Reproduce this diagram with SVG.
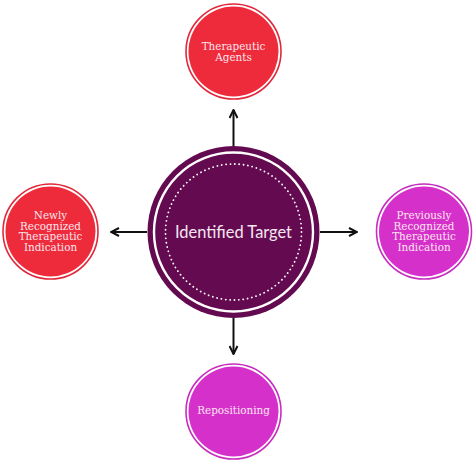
<svg xmlns="http://www.w3.org/2000/svg" width="474" height="466" viewBox="0 0 474 466">
<defs>
<marker id="ah" viewBox="0 0 10 10" refX="9" refY="5" markerWidth="10" markerHeight="10" markerUnits="userSpaceOnUse" orient="auto">
<path d="M1,1 L9,5 L1,9" fill="none" stroke="#111" stroke-width="2"/>
</marker>
<style>
.red .ring{fill:none;stroke:#E0283A;stroke-width:1.6}
.red .fill{fill:#EE2B3B}
.mag .ring{fill:none;stroke:#C82CBF;stroke-width:1.6}
.mag .fill{fill:#D630CB}
.lbl{font-family:"DejaVu Serif","Liberation Serif",serif;font-size:10.4px;fill:#FCE6EE;text-anchor:middle}
.ctr{font-family:"Lato","Open Sans",sans-serif;font-size:16.5px;fill:#F4E6F0;text-anchor:middle}
.conn line{stroke:#111;stroke-width:2;marker-end:url(#ah)}
</style>
</defs>
<rect width="474" height="466" fill="#fff"/>
<g class="conn" id="connectors">
<line x1="233.5" y1="146" x2="233.5" y2="110"/>
<line x1="233.5" y1="318" x2="233.5" y2="354"/>
<line x1="147" y1="232" x2="111" y2="232"/>
<line x1="320" y1="232" x2="357" y2="232"/>
</g>
<g id="center">
<circle cx="233.5" cy="232" r="86" fill="#640A50"/>
<circle cx="233.5" cy="232" r="79.5" fill="none" stroke="#fff" stroke-width="2.4"/>
<circle cx="233.5" cy="232" r="68" fill="none" stroke="#fff" stroke-width="1.8" stroke-dasharray="0.1 4.3" stroke-linecap="round"/>
<text class="ctr" x="233.5" y="238" textLength="117" lengthAdjust="spacingAndGlyphs">Identified Target</text>
</g>
<g id="agents" class="red">
<circle class="ring" cx="233.5" cy="51.5" r="47.5"/>
<circle class="fill" cx="233.5" cy="51.5" r="45"/>
<text class="lbl" x="233.5" y="50">Therapeutic</text>
<text class="lbl" x="233.5" y="61">Agents</text>
</g>
<g id="newly" class="red">
<circle class="ring" cx="50.5" cy="231.5" r="47.5"/>
<circle class="fill" cx="50.5" cy="231.5" r="45"/>
<text class="lbl" x="50.5" y="219">Newly</text>
<text class="lbl" x="50.5" y="229.5">Recognized</text>
<text class="lbl" x="50.5" y="240">Therapeutic</text>
<text class="lbl" x="50.5" y="250.5">Indication</text>
</g>
<g id="previously" class="mag">
<circle class="ring" cx="424" cy="231.5" r="47.5"/>
<circle class="fill" cx="424" cy="231.5" r="45"/>
<text class="lbl" x="424" y="219">Previously</text>
<text class="lbl" x="424" y="229.5">Recognized</text>
<text class="lbl" x="424" y="240">Therapeutic</text>
<text class="lbl" x="424" y="250.5">Indication</text>
</g>
<g id="repositioning" class="mag">
<circle class="ring" cx="233.5" cy="411.5" r="47.5"/>
<circle class="fill" cx="233.5" cy="411.5" r="45"/>
<text class="lbl" x="233.5" y="414">Repositioning</text>
</g>
</svg>
